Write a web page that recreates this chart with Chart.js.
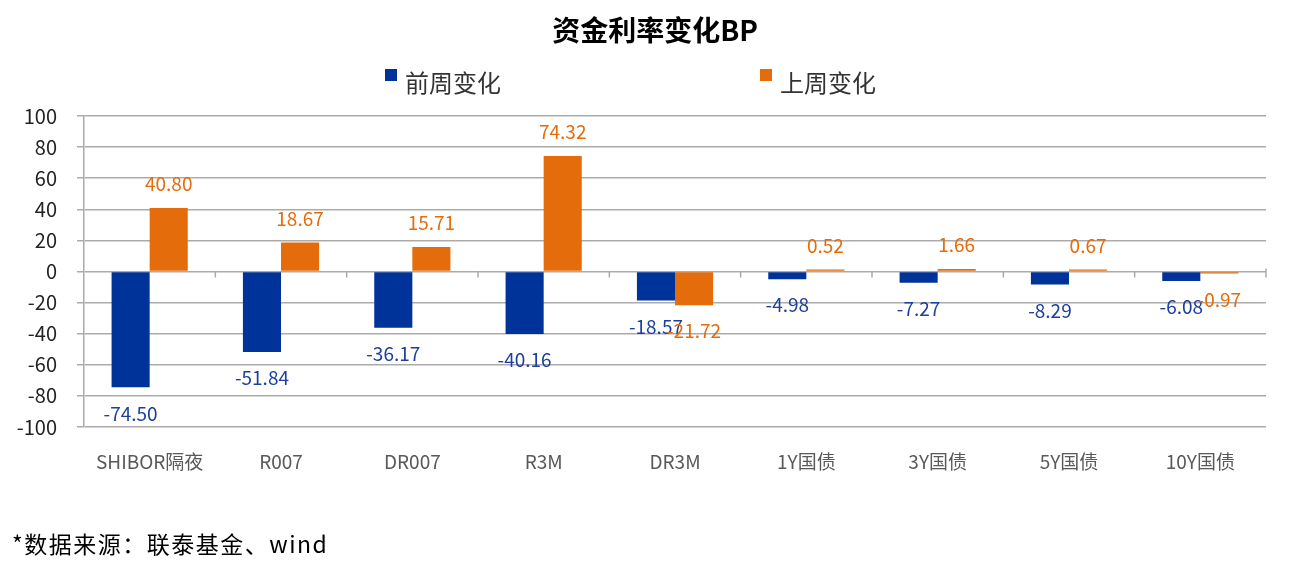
<!DOCTYPE html>
<html>
<head>
<meta charset="utf-8">
<script src="https://cdn.jsdelivr.net/npm/chart.js@4"></script>
<style>
  body { margin: 0; background: #fff; }
  #wrap { position: relative; width: 1300px; height: 573px; }
  #title { position: absolute; left: 0; width: 1310px; top: 9px; text-align: center;
           font: bold 28px 'Noto Sans CJK SC', sans-serif; color: #000; }
  .leg { position: absolute; top: 64px; font: 24px 'Noto Sans CJK SC', sans-serif; color: #333; }
  .leg span { display: inline-block; width: 12px; height: 12px; margin-right: 8px; vertical-align: 11px; }
  #note { position: absolute; left: 12px; top: 526px; font: 23px 'Noto Sans CJK SC', sans-serif;
          letter-spacing: 1.5px; color: #000; }
</style>
</head>
<body>
<div id="wrap">
  <canvas id="rate-chart"></canvas>
  <div id="title">资金利率变化BP</div>
  <div class="leg" style="left:385px"><span style="background:#003399"></span>前周变化</div>
  <div class="leg" style="left:760px"><span style="background:#E46C0A"></span>上周变化</div>
  <div id="note">*数据来源：联泰基金、wind</div>
</div>
<script>
const categories = ['SHIBOR隔夜', 'R007', 'DR007', 'R3M', 'DR3M', '1Y国债', '3Y国债', '5Y国债', '10Y国债'];
const prevWeek = [-74.50, -51.84, -36.17, -40.16, -18.57, -4.98, -7.27, -8.29, -6.08];
const lastWeek = [40.80, 18.67, 15.71, 74.32, -21.72, 0.52, 1.66, 0.67, -0.97];
const yTicks = [-100, -80, -60, -40, -20, 0, 20, 40, 60, 80, 100];

const FONT = "'Noto Sans CJK SC', sans-serif";
const BLUE = '#003399';
const ORANGE = '#E46C0A';
const GRID = '#ababab';

// small tick marks on the zero line between categories
const zeroTicks = {
    id: 'zeroTicks',
    beforeDatasetsDraw(chart) {
        const x = chart.scales.x, y = chart.scales.y;
        const ctx = chart.ctx;
        const y0 = y.getPixelForValue(0);
        const step = (x.right - x.left) / categories.length;
        ctx.save();
        ctx.strokeStyle = GRID;
        ctx.lineWidth = 1.5;
        for (let i = 1; i <= categories.length; i++) {
            const px = x.left + step * i;
            ctx.beginPath();
            ctx.moveTo(px, y0 - (i === categories.length ? 3 : 0));
            ctx.lineTo(px, y0 + 6);
            ctx.stroke();
        }
        ctx.restore();
    }
};

// value labels above / below bars
const barLabels = {
    id: 'barLabels',
    afterDatasetsDraw(chart) {
        const ctx = chart.ctx;
        ctx.save();
        ctx.font = '19px ' + FONT;
        ctx.textAlign = 'center';
        ctx.textBaseline = 'middle';
        chart.data.datasets.forEach((ds, di) => {
            const meta = chart.getDatasetMeta(di);
            ctx.fillStyle = di === 0 ? '#1c3f9c' : ORANGE;
            meta.data.forEach((el, i) => {
                const v = ds.data[i];
                const y = v >= 0 ? el.y - 24 : el.y + 26;
                ctx.fillText(v.toFixed(2), el.x, y);
            });
        });
        ctx.restore();
    }
};

const ctx = document.getElementById('rate-chart').getContext('2d');
const chart = new Chart(ctx, {
    type: 'bar',
    data: {
        labels: categories,
        datasets: [
            { label: '前周变化', data: prevWeek, backgroundColor: BLUE },
            { label: '上周变化', data: lastWeek, backgroundColor: ORANGE }
        ]
    },
    options: {
        responsive: true,
        maintainAspectRatio: false,
        animation: false,
        layout: { padding: { top: 116, right: 34, left: 0, bottom: 0 } },
        datasets: { bar: { categoryPercentage: 0.58, barPercentage: 1.0, minBarLength: 2 } },
        plugins: {
            legend: { display: false },
            tooltip: { enabled: false }
        },
        scales: {
            x: {
                grid: { display: false, drawTicks: false },
                border: { display: false },
                ticks: { padding: 23, color: '#595959', font: { family: FONT, size: 19 } },
                afterFit(scale) { scale.height = 146; }
            },
            y: {
                min: -100,
                max: 100,
                afterBuildTicks(scale) { scale.ticks = yTicks.map(v => ({ value: v })); },
                grid: { color: GRID, lineWidth: 1.5, tickLength: 7 },
                border: { display: true, color: GRID, width: 1.5 },
                ticks: { padding: 20, color: '#222', font: { family: FONT, size: 20 } },
                afterFit(scale) { scale.width = 84; }
            }
        }
    },
    plugins: [zeroTicks, barLabels]
});
</script>
</body>
</html>
